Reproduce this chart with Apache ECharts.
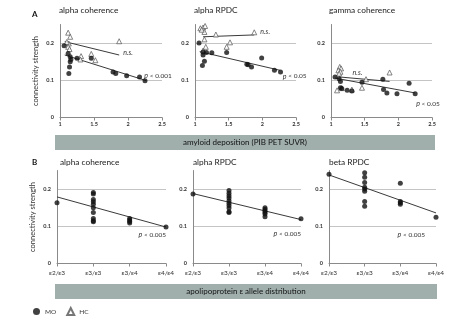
<!DOCTYPE html>
<html>
<head>
<meta charset="utf-8">
<script src="https://cdn.jsdelivr.net/npm/echarts@6/dist/echarts.min.js"></script>
<style>
  html, body { margin: 0; padding: 0; background: #fff; }
  #chart { width: 474px; height: 323px; }
</style>
</head>
<body>
<div id="chart"></div>
<script>
// ---- Panel A: connectivity vs. amyloid deposition (PIB PET SUVR) ----
const suvrTicks = [1, 1.5, 2, 2.5];

const moAlphaCoh = [[1.06,0.193],[1.12,0.172],[1.15,0.163],[1.16,0.156],[1.15,0.150],[1.14,0.136],[1.13,0.118],[1.25,0.159],[1.46,0.159],[1.78,0.122],[1.82,0.118],[1.98,0.112],[2.17,0.109],[2.25,0.099]];
const hcAlphaCoh = [[1.12,0.228],[1.15,0.217],[1.13,0.199],[1.12,0.190],[1.14,0.184],[1.10,0.203],[1.87,0.205],[1.31,0.165],[1.46,0.171],[1.52,0.154],[1.30,0.156]];
const moFitAlphaCoh = [[1.07,0.168],[2.27,0.099]];
const hcFitAlphaCoh = [[1.07,0.204],[1.87,0.168]];

const moAlphaRpdc = [[1.06,0.200],[1.12,0.176],[1.17,0.175],[1.12,0.168],[1.14,0.151],[1.11,0.140],[1.25,0.174],[1.47,0.175],[1.77,0.143],[1.79,0.142],[1.84,0.136],[1.99,0.160],[2.18,0.127],[2.27,0.122]];
const hcAlphaRpdc = [[1.08,0.240],[1.12,0.242],[1.15,0.246],[1.14,0.230],[1.10,0.236],[1.31,0.223],[1.88,0.229],[1.14,0.210],[1.16,0.190],[1.47,0.190],[1.52,0.202],[1.12,0.180]];
const moFitAlphaRpdc = [[1.07,0.177],[2.26,0.127]];
const hcFitAlphaRpdc = [[1.12,0.217],[1.88,0.222]];

const moGammaCoh = [[1.06,0.109],[1.12,0.104],[1.14,0.097],[1.14,0.080],[1.16,0.078],[1.24,0.073],[1.31,0.071],[1.46,0.095],[1.77,0.103],[1.78,0.075],[1.83,0.066],[1.98,0.064],[2.16,0.092],[2.25,0.064]];
const hcGammaCoh = [[1.13,0.136],[1.15,0.132],[1.11,0.127],[1.14,0.123],[1.12,0.118],[1.52,0.103],[1.87,0.121],[1.09,0.073],[1.31,0.075],[1.46,0.080],[1.16,0.079]];
const moFitGammaCoh = [[1.06,0.106],[2.25,0.066]];
const hcFitGammaCoh = [[1.12,0.109],[1.87,0.097]];

// ---- Panel B: connectivity vs. apolipoprotein ε genotype (MO only) ----
const genotypes = ['ε2/ε3', 'ε3/ε3', 'ε3/ε4', 'ε4/ε4'];

const apoeAlphaCoh = [[0,0.163],[1,0.191],[1,0.187],[1,0.172],[1,0.166],[1,0.159],[1,0.150],[1,0.137],[1,0.121],[1,0.115],[1,0.112],[2,0.121],[2,0.117],[2,0.113],[2,0.109],[3,0.098]];
const apoeFitAlphaCoh = [[0,0.179],[3,0.098]];

const apoeAlphaRpdc = [[0,0.187],[1,0.196],[1,0.189],[1,0.182],[1,0.176],[1,0.169],[1,0.162],[1,0.156],[1,0.149],[1,0.139],[1,0.137],[2,0.150],[2,0.146],[2,0.141],[2,0.137],[2,0.133],[2,0.126],[3,0.120]];
const apoeFitAlphaRpdc = [[0,0.188],[3,0.118]];

const apoeBetaRpdc = [[0,0.240],[1,0.244],[1,0.232],[1,0.218],[1,0.205],[1,0.200],[1,0.194],[1,0.167],[1,0.154],[2,0.216],[2,0.167],[2,0.163],[2,0.159],[3,0.124]];
const apoeFitBetaRpdc = [[0,0.238],[3,0.136]];

const panelTitles = ['alpha coherence', 'alpha RPDC', 'gamma coherence', 'alpha coherence', 'alpha RPDC', 'beta RPDC'];
const yTicks = [0, 0.1, 0.2];

// ---- layout & style ----
const FONT = 'Lato, "Open Sans", sans-serif';
const AXIS = '#8a8a8a';
const GRIDLINE = '#c4c4c4';
const FITLINE = '#3a3a3a';

const grids = [
  { left: 60,  top: 24.5,  width: 102, height: 93 },
  { left: 195, top: 24.5,  width: 101, height: 93 },
  { left: 331, top: 24.5,  width: 101, height: 93 },
  { left: 57,  top: 170.5, width: 109, height: 93 },
  { left: 193, top: 170.5, width: 108, height: 93 },
  { left: 329, top: 170.5, width: 107, height: 93 }
];

const titleLeft = [59, 194, 329, 60, 193, 329];
const titleTop = [6, 6, 6, 158, 158, 158];

const yAxes = grids.map((g, i) => ({
  type: 'value', gridIndex: i, min: 0, max: 0.25, interval: 0.1,
  name: (i === 0 || i === 3) ? 'connectivity strength' : '',
  nameLocation: 'middle', nameGap: 20, nameRotate: 90,
  nameTextStyle: { fontSize: 7.5, color: '#333', fontFamily: FONT },
  axisLine: { show: true, lineStyle: { color: AXIS, width: 1 } },
  axisTick: { show: false },
  axisLabel: {
    fontSize: 5.5, color: '#333', margin: 6, fontFamily: FONT, fontWeight: 'bold',
    showMaxLabel: false,
    formatter: v => (yTicks.indexOf(Math.round(v * 10) / 10) >= 0 ? (v === 0 ? '0' : v.toFixed(1)) : '')
  },
  splitLine: { show: true, showMaxLine: false, lineStyle: { color: GRIDLINE, width: 1 } }
}));

const xAxes = grids.map((g, i) => i < 3 ? ({
  type: 'value', gridIndex: i, min: suvrTicks[0], max: suvrTicks[suvrTicks.length - 1], interval: 0.5,
  axisLine: { show: true, lineStyle: { color: AXIS, width: 1 } },
  axisTick: { show: true, length: 3, lineStyle: { color: AXIS } },
  axisLabel: { fontSize: 5.5, color: '#333', margin: 4, fontFamily: FONT, fontWeight: 'bold' },
  splitLine: { show: false }
}) : ({
  type: 'category', gridIndex: i, data: genotypes, boundaryGap: false,
  axisLine: { show: true, lineStyle: { color: AXIS, width: 1 } },
  axisTick: { show: true, length: 3, alignWithLabel: true, lineStyle: { color: AXIS } },
  axisLabel: { fontSize: 6.5, color: '#333', margin: 6, fontFamily: FONT, interval: 0 },
  splitLine: { show: false }
}));

function dots(data, gi) {
  return {
    name: 'MO', type: 'scatter', xAxisIndex: gi, yAxisIndex: gi, data,
    symbol: 'circle', symbolSize: 5, itemStyle: { color: '#111' }, z: 4
  };
}
function triangles(data, gi) {
  return {
    name: 'HC', type: 'scatter', xAxisIndex: gi, yAxisIndex: gi, data,
    symbol: 'triangle', symbolSize: 5,
    itemStyle: { color: '#fff', borderColor: '#555', borderWidth: 0.9 }, z: 3
  };
}
function fit(data, gi, text, labelOpt) {
  return {
    name: 'fit', type: 'line', xAxisIndex: gi, yAxisIndex: gi, data,
    showSymbol: false, symbol: 'none', silent: true, z: 2,
    lineStyle: { color: FITLINE, width: 1 },
    endLabel: Object.assign({
      show: true, distance: 0, formatter: text,
      fontSize: 6.5, color: '#333', fontFamily: FONT, verticalAlign: 'middle',
      rich: { i: { fontStyle: 'italic', fontSize: 7, color: '#333', fontFamily: FONT } }
    }, labelOpt)
  };
}

const series = [
  triangles(hcAlphaCoh, 0), dots(moAlphaCoh, 0),
  fit(hcFitAlphaCoh, 0, '{i|n.s.}', { align: 'left', offset: [4, -2] }),
  fit(moFitAlphaCoh, 0, '{i|p} < 0.001', { align: 'left', offset: [-2, -5] }),

  triangles(hcAlphaRpdc, 1), dots(moAlphaRpdc, 1),
  fit(hcFitAlphaRpdc, 1, '{i|n.s.}', { align: 'left', offset: [6, -3] }),
  fit(moFitAlphaRpdc, 1, '{i|p} < 0.05', { align: 'left', offset: [3, 6] }),

  triangles(hcGammaCoh, 2), dots(moGammaCoh, 2),
  fit(hcFitGammaCoh, 2, '{i|n.s.}', { align: 'left', offset: [-37, -9] }),
  fit(moFitGammaCoh, 2, '{i|p} < 0.05', { align: 'left', offset: [1, 11] }),

  dots(apoeAlphaCoh, 3),
  fit(apoeFitAlphaCoh, 3, '{i|p} < 0.005', { align: 'right', offset: [0, 8] }),
  dots(apoeAlphaRpdc, 4),
  fit(apoeFitAlphaRpdc, 4, '{i|p} < 0.005', { align: 'right', offset: [0, 14] }),
  dots(apoeBetaRpdc, 5),
  fit(apoeFitBetaRpdc, 5, '{i|p} < 0.005', { align: 'right', offset: [-11, 22] })
];

const titles = panelTitles.map((t, i) => ({
  text: t, left: titleLeft[i], top: titleTop[i], padding: 0,
  textStyle: { fontSize: 8.3, fontWeight: 'normal', color: '#222', fontFamily: FONT }
}));

const graphic = [
  { type: 'text', left: 32, top: 10, style: { text: 'A', fontSize: 8, fontWeight: 'bold', fill: '#111', fontFamily: FONT } },
  { type: 'text', left: 32, top: 158, style: { text: 'B', fontSize: 8, fontWeight: 'bold', fill: '#111', fontFamily: FONT } },
  { type: 'rect', shape: { x: 55, y: 135, width: 380, height: 15 }, style: { fill: '#a0afac' } },
  { type: 'text', x: 245, y: 142.5, style: { text: 'amyloid deposition (PIB PET SUVR)', fontSize: 8, fill: '#111', fontFamily: FONT, align: 'center', verticalAlign: 'middle' } },
  { type: 'rect', shape: { x: 55, y: 284, width: 382, height: 15 }, style: { fill: '#a0afac' } },
  { type: 'text', x: 246, y: 291.5, style: { text: 'apolipoprotein ε allele distribution', fontSize: 8, fill: '#111', fontFamily: FONT, align: 'center', verticalAlign: 'middle' } }
];

const chart = echarts.init(document.getElementById('chart'), null, { renderer: 'canvas' });
chart.setOption({
  animation: false,
  backgroundColor: '#fff',
  textStyle: { fontFamily: FONT },
  title: titles,
  grid: grids,
  xAxis: xAxes,
  yAxis: yAxes,
  legend: {
    data: [{ name: 'MO', icon: 'circle' }, { name: 'HC', icon: 'triangle' }],
    left: 33, top: 307, itemWidth: 7, itemHeight: 7, itemGap: 10, padding: 0,
    textStyle: { fontSize: 6.5, color: '#333', fontFamily: FONT }, selectedMode: false
  },
  graphic,
  series
});
</script>
</body>
</html>
